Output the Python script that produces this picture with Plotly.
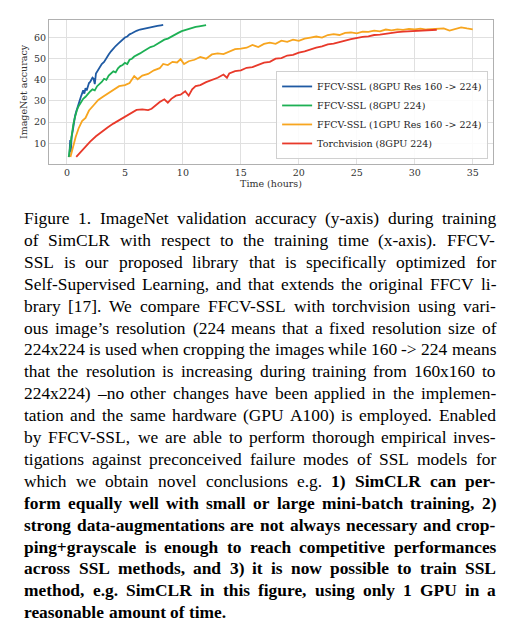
"""
SimCLR ImageNet accuracy vs training time, FFCV-SSL vs torchvision (Figure 1).
"""
import plotly.graph_objects as go

#------------------------------------------------------------------------------
# Data (time in hours, top-1 accuracy in %)
blue_x = [0.2, 0.28, 0.33, 0.4, 0.5, 0.6, 0.7, 0.8, 0.9, 1.0,
          1.1, 1.2, 1.3, 1.4, 1.5, 1.6, 1.7, 1.8, 1.9, 2.0, 2.1, 2.2, 2.3, 2.4, 2.5, 2.6, 2.7, 2.8,
          3.0, 3.2, 3.4, 3.6, 3.8, 4.0, 4.2, 4.4, 4.6, 4.8, 5.0, 5.2, 5.4, 5.6, 5.8, 6.0,
          6.3, 6.6, 6.9, 7.2, 7.5, 7.8, 8.1, 8.3]
blue_y = [3.5, 11.5, 6, 13, 16, 20, 23, 25, 27, 28.5,
          30, 32, 33.5, 35, 33.5, 36, 35, 37.5, 38.5, 39, 40, 41, 40.5, 38, 43, 44, 45, 46,
          47.5, 48.5, 50.5, 52, 53.5, 55, 56, 57, 58, 59, 60, 60.5, 61.5, 62, 62.8, 63.2,
          63.8, 64.2, 64.6, 65, 65.2, 65.5, 65.8, 66]

green_x = [0.15, 0.25, 0.35, 0.45, 0.55, 0.65, 0.75, 0.85,
           1.0, 1.2, 1.4, 1.6, 1.8, 2.0, 2.2, 2.4, 2.6, 2.8, 3.0,
           3.2, 3.4, 3.6, 3.8, 4.0, 4.2, 4.4, 4.6, 4.8, 5.0, 5.2, 5.4, 5.6, 5.8, 6.0,
           6.3, 6.6, 6.9, 7.2, 7.5, 7.8, 8.1, 8.4, 8.7, 9.0, 9.3, 9.6, 9.9, 10.2, 10.5,
           10.8, 11.1, 11.4, 11.7, 12.0]
green_y = [3.5, 8, 12.5, 16, 19, 21.5, 24, 25.5,
           27.5, 29.5, 31, 32, 33.5, 34.5, 35.5, 35, 37, 38, 39,
           40.5, 40, 42, 43, 44, 43.5, 45.5, 46.5, 47, 48, 47.5, 49.5, 50, 51, 51.5,
           52.5, 53.5, 54.5, 55.5, 56, 57, 58, 59, 59.5, 60.5, 61.5, 62.2, 63, 63.5, 64.2,
           64.6, 65, 65.3, 65.6, 65.9]

orange_x = [0.3, 0.5, 0.75, 1.0, 1.3, 1.6, 1.9, 2.3, 2.7, 3.1, 3.5,
            4.0, 4.5, 5.0, 5.4, 5.8, 6.1, 6.5,
            7.0, 7.5, 8.0, 8.3, 8.7, 9.1, 9.5, 9.8, 10.1, 10.5,
            11.0, 11.5, 12.0, 12.5, 13.0, 13.5, 14.0, 14.5, 15.0, 15.5,
            16.0, 16.5, 17.0, 17.5, 18.0, 18.5, 19.0, 19.5, 20.0, 20.5,
            21.0, 21.5, 22.0, 22.5, 23.0, 23.5, 24.0, 24.5, 25.0, 25.5,
            26.0, 26.5, 27.0, 27.5, 28.0, 28.5, 29.0, 29.5, 30.0, 30.5,
            31.0, 31.5, 32.0, 32.5, 33.0, 33.5, 34.0, 34.5, 35.0]
orange_y = [3.5, 8, 13, 17, 20.5, 22, 25.5, 28, 30.5, 32, 33.5,
            35.5, 37, 37.5, 38.5, 41.8, 40.3, 42,
            42.8, 44.5, 45.5, 47.5, 47, 48.5, 48.2, 49.8, 47.5, 48.8,
            49.5, 50.8, 50, 52, 52.5, 52.2, 53.5, 54.5, 54.8, 55.2,
            56.5, 55.5, 57, 57.6, 57, 58.5, 58, 59, 58.4, 59.5,
            60, 60.5, 60, 61.2, 61.6, 61.2, 62.2, 62.4, 62, 62.8,
            62.7, 63.3, 62.9, 63.8, 63.4, 63.9, 63.6, 64.1, 63.9, 64.2,
            63.8, 64.0, 63.9, 64.3, 63.3, 64.2, 64.8, 64.3, 63.9]

red_x = [0.8, 1.2, 1.6, 2.0, 2.5, 3.0, 3.5, 4.0, 4.5, 5.0, 5.5, 6.0, 6.5, 7.0,
         7.3, 7.7, 8.0, 8.4, 8.7, 9.0, 9.4, 9.8, 10.2, 10.5, 10.8, 11.1, 11.5,
         12.0, 12.5, 13.0, 13.5, 13.8, 14.0,
         14.5, 15.0, 15.5, 16.0, 16.5, 17.0, 17.5, 18.0, 18.5, 19.0, 19.5, 20.0,
         20.5, 21.0, 21.5, 22.0, 22.5, 23.0, 23.5, 24.0, 24.5, 25.0, 25.5, 26.0,
         26.5, 27.0, 27.5, 28.0, 28.5, 29.0, 29.5, 30.0, 30.5, 31.0, 31.5, 31.9]
red_y = [3.6, 6, 8.5, 10.8, 13.3, 15.5, 17.5, 19.3, 21, 22.6, 24, 25.8, 26, 25.7,
         26.3, 28.3, 29.5, 30.8, 29.2, 31, 32.5, 33, 34.6, 32.5, 35.5, 37, 37.5,
         38.9, 39.8, 41, 42.5, 41, 43,
         44.1, 44.5, 45.7, 46, 47.2, 48.1, 48.5, 50, 50.3, 51.5, 51.8, 52.9,
         53.5, 54.5, 55.2, 55.8, 56.8, 57.1, 58, 58.6, 59.2, 59.8, 60.3, 60.6,
         61.2, 61.4, 61.9, 62.2, 62.6, 62.8, 63.0, 63.2, 63.3, 63.5, 63.6, 63.7]

series_names = ["FFCV-SSL (8GPU Res 160 -> 224)", "FFCV-SSL (8GPU 224)",
                "FFCV-SSL (1GPU Res 160 -> 224)", "Torchvision (8GPU 224)"]
x_ticks = [0, 5, 10, 15, 20, 25, 30, 35]
y_ticks = [10, 20, 30, 40, 50, 60]

caption = [
    "Figure 1. ImageNet validation accuracy (y-axis) during training",
    "of SimCLR with respect to the training time (x-axis). FFCV-",
    "SSL is our proposed library that is specifically optimized for",
    "Self-Supervised Learning, and that extends the original FFCV li-",
    "brary [17]. We compare FFCV-SSL with torchvision using vari-",
    "ous image’s resolution (224 means that a fixed resolution size of",
    "224x224 is used when cropping the images while 160 -> 224 means",
    "that the resolution is increasing during training from 160x160 to",
    "224x224) –no other changes have been applied in the implemen-",
    "tation and the same hardware (GPU A100) is employed. Enabled",
    "by FFCV-SSL, we are able to perform thorough empirical inves-",
    "tigations against preconceived failure modes of SSL models for",
    "which we obtain novel conclusions e.g. <b>1) SimCLR can per-</b>",
    "<b>form equally well with small or large mini-batch training, 2)</b>",
    "<b>strong data-augmentations are not always necessary and crop-</b>",
    "<b>ping+grayscale is enough to reach competitive performances</b>",
    "<b>across SSL methods, and 3) it is now possible to train SSL</b>",
    "<b>method, e.g. SimCLR in this figure, using only 1 GPU in a</b>",
    "<b>reasonable amount of time.</b>",
]

#------------------------------------------------------------------------------
# Times advance widths (per 1000 em) so the caption can be justified word by word
lower = "abcdefghijklmnopqrstuvwxyz"
upper = "ABCDEFGHIJKLMNOPQRSTUVWXYZ"
w_roman = dict(zip(lower, [444, 500, 444, 500, 444, 333, 500, 500, 278, 278, 500, 278, 778,
                           500, 500, 500, 500, 333, 389, 278, 500, 500, 722, 500, 500, 444]))
w_roman.update(zip(upper, [722, 667, 667, 722, 611, 556, 722, 722, 333, 389, 722, 611, 889,
                           722, 722, 556, 722, 667, 556, 611, 722, 722, 944, 722, 722, 611]))
w_roman.update({".": 250, ",": 250, "-": 333, "(": 333, ")": 333, "[": 333, "]": 333,
                ">": 564, "+": 564, "’": 333, "–": 500, ":": 278})
w_bold = dict(zip(lower, [500, 556, 444, 556, 444, 333, 500, 556, 278, 333, 556, 278, 833,
                          556, 500, 556, 556, 444, 389, 333, 556, 500, 722, 500, 500, 444]))
w_bold.update(zip(upper, [722, 667, 722, 722, 667, 611, 778, 778, 389, 500, 778, 667, 944,
                          722, 778, 611, 778, 722, 556, 667, 722, 722, 1000, 722, 722, 667]))
w_bold.update({".": 250, ",": 250, "-": 333, "(": 333, ")": 333, "+": 570})


def word_width(word, bold, size):
    table = w_bold if bold else w_roman
    return sum(table.get(ch, 500) for ch in word) * size / 1000


#------------------------------------------------------------------------------
colors = ["#1f5aa3", "#1db054", "#f7a51f", "#e8392a"]
all_x = [blue_x, green_x, orange_x, red_x]
all_y = [blue_y, green_y, orange_y, red_y]

fig = go.Figure()
for name, xs, ys, c in zip(series_names, all_x, all_y, colors):
    fig.add_trace(go.Scatter(x = xs, y = ys, mode = "lines", name = name,
                             line = dict(color = c, width = 1.8)))

# Plot area in page pixels; the page body adds an 8 px offset
pad = 8
plot_left, plot_right, plot_top, plot_bottom = 49 - pad, 493 - pad, 20 - pad, 164 - pad
plot_h = plot_bottom - plot_top
plot_w = plot_right - plot_left

serif_sm = "DejaVu Serif"
serif_tx = "Liberation Serif"
axis_font = dict(family = serif_sm, size = 9.5, color = "#333333")
fig.update_xaxes(range = [-1.55, 36.75], tickvals = x_ticks, automargin = False,
                 title = dict(text = "Time (hours)", font = axis_font, standoff = 2),
                 tickfont = axis_font, showgrid = True, gridcolor = "#e0e0e0",
                 showline = True, linecolor = "#b0b0b0", mirror = True,
                 zeroline = False, ticks = "")
fig.update_yaxes(range = [0.2, 68.3], tickvals = y_ticks, automargin = False,
                 title = dict(text = "ImageNet accuracy", font = axis_font, standoff = 4),
                 tickfont = axis_font, showgrid = True, gridcolor = "#e0e0e0",
                 showline = True, linecolor = "#b0b0b0", mirror = True,
                 zeroline = False, ticks = "")

# Caption below the chart, justified between the two text edges
txt_size = 17.4
txt_left, txt_right = 23 - pad, 495 - pad
line_top, line_gap = 218 - pad, 21.9
for i, line in enumerate(caption):
    py = line_top + i * line_gap
    words, bold = [], False
    for tok in line.split(" "):
        if tok.startswith("<b>"):
            bold, tok = True, tok[3:]
        end_bold = tok.endswith("</b>")
        tok = tok.replace("</b>", "")
        words.append((tok, bold))
        if end_bold:
            bold = False
    widths = [word_width(w, b, txt_size) for w, b in words]
    if i < len(caption) - 1:
        gap = (txt_right - txt_left - sum(widths)) / (len(words) - 1)
    else:
        gap = 0.25 * txt_size
    px = txt_left
    for (w, b), ww in zip(words, widths):
        fig.add_annotation(text = f"<b>{w}</b>" if b else w, xref = "paper", yref = "paper",
                           x = (px - plot_left) / plot_w, y = (plot_bottom - py) / plot_h,
                           xanchor = "left", yanchor = "middle", showarrow = False,
                           borderpad = 0,
                           font = dict(family = serif_tx, size = txt_size, color = "black"))
        px += ww + gap

fig.update_layout(
    width = 519, height = 644,
    font = dict(family = serif_tx),
    margin = dict(l = plot_left, r = 519 - plot_right, t = plot_top, b = 644 - plot_bottom),
    plot_bgcolor = "white", paper_bgcolor = "white",
    legend = dict(x = 0.989, y = 0.035, xanchor = "right", yanchor = "bottom",
                  bgcolor = "rgba(255,255,255,0.85)", bordercolor = "#d0d0d0", borderwidth = 1,
                  font = dict(family = serif_sm, size = 9.5, color = "#222222"),
                  tracegroupgap = 0),
    showlegend = True,
)

fig.write_html("out.html")
